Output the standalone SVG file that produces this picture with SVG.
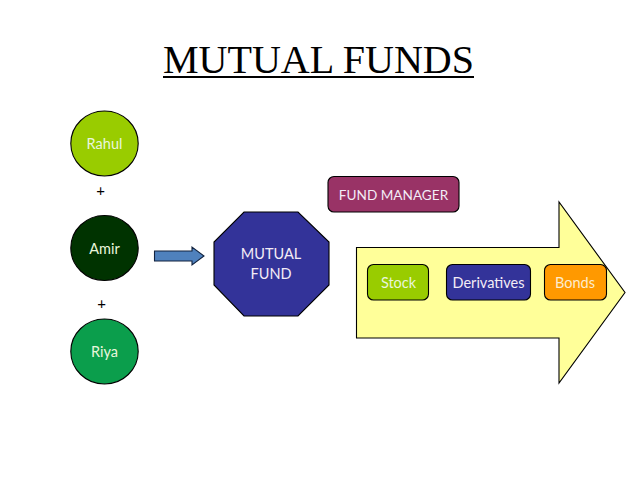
<svg xmlns="http://www.w3.org/2000/svg" width="638" height="479" viewBox="0 0 638 479">
<style>
.s{stroke:#000;stroke-width:1.1}
.t{font-family:Lato,"Open Sans",sans-serif;font-size:14.5px;text-anchor:middle}
.n{font-size:13.6px}
.l{fill:#e9f6dc}
.w{fill:#f3ecf6}
.p{font-family:Lato,"Open Sans",sans-serif;font-size:15px;text-anchor:middle;fill:#000}
</style>
<rect width="638" height="479" fill="#fff"/>
<text id="title" x="318.500" y="73" font-family="'Liberation Serif',serif" font-size="40" textLength="311" lengthAdjust="spacingAndGlyphs" text-anchor="middle" fill="#000">MUTUAL FUNDS</text>
<rect x="163" y="76" width="311" height="2" fill="#000"/>
<g id="connectors">
<path d="M154.500 251H192V247L204 256L192 265V261H154.500Z" fill="#4f81bd" stroke="#12233f" stroke-width="1.100"/>
</g>
<g id="rahul"><ellipse class="s" cx="104.500" cy="143.500" rx="33.700" ry="32.500" fill="#99cc00"/><text class="t l" x="104.500" y="149">Rahul</text></g>
<text class="p" x="100.500" y="195.500">+</text>
<g id="amir"><ellipse class="s" cx="104.500" cy="248" rx="33.700" ry="32.500" fill="#003300"/><text class="t l" x="104.500" y="254">Amir</text></g>
<text class="p" x="101.500" y="308.500">+</text>
<g id="riya"><ellipse class="s" cx="104.500" cy="351.500" rx="33.700" ry="32.500" fill="#0b9e4c"/><text class="t l" x="104.500" y="357">Riya</text></g>
<g id="mutual-fund"><path class="s" d="M244 212H298L329 242V285L298 316H244L214 285V242Z" fill="#333399"/><text class="t w" x="271" y="259">MUTUAL</text><text class="t w" x="271" y="279">FUND</text></g>
<g id="fund-manager"><rect class="s" x="328" y="176.500" width="131" height="35.500" rx="6" fill="#993366"/><text class="t n w" x="393.500" y="200">FUND MANAGER</text></g>
<g id="big-arrow"><path class="s" d="M356.500 247.500H559V202L625 292.500L559 383V338H356.500Z" fill="#ffff99"/></g>
<g id="stock"><rect class="s" x="367.500" y="264.500" width="61" height="35.500" rx="6" fill="#99cc00"/><text class="t l" x="398.500" y="288">Stock</text></g>
<g id="derivatives"><rect class="s" x="446.500" y="264.500" width="84" height="35.500" rx="6" fill="#333399"/><text class="t w" x="488.500" y="288">Derivatives</text></g>
<g id="bonds"><rect class="s" x="544.500" y="264.500" width="62" height="35.500" rx="6" fill="#ff9900"/><text class="t" fill="#fdeccf" x="575" y="288">Bonds</text></g>
</svg>
